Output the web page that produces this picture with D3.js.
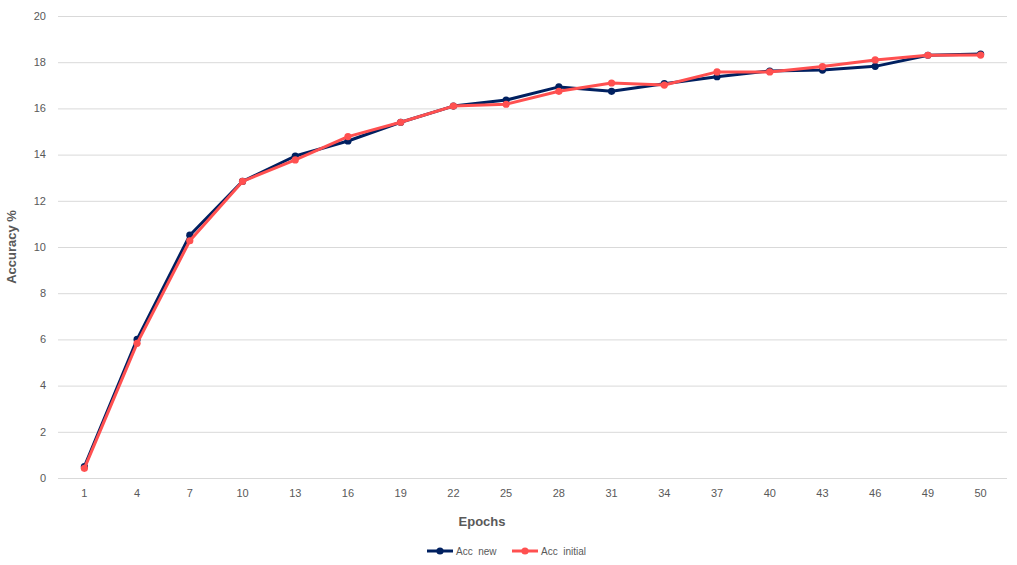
<!DOCTYPE html>
<html><head><meta charset="utf-8">
<script src="https://cdn.jsdelivr.net/npm/d3@7"></script>
<style>body{margin:0;background:#fff;} text{font-family:"Liberation Sans",Arial,sans-serif;}</style>
</head><body>
<svg id="c" width="1017" height="565"></svg>
<script>
const epochs = ["1","4","7","10","13","16","19","22","25","28","31","34","37","40","43","46","49","50"];
const accNew = [0.49,6.0,10.51,12.84,13.94,14.59,15.40,16.10,16.36,16.93,16.74,17.07,17.37,17.62,17.66,17.82,18.30,18.35];
const accInitial = [0.42,5.83,10.27,12.84,13.77,14.78,15.40,16.10,16.18,16.74,17.10,17.01,17.58,17.58,17.81,18.10,18.30,18.31];
const yTicks = [0,2,4,6,8,10,12,14,16,18,20];
const seriesNames = ["Acc  new","Acc  initial"];
const colors = ["#002060","#FF5050"];

const svg = d3.select("#c");
const mLeft=58, mRight=1007, mTop=16, mBottom=478;
const x = d3.scaleBand().domain(epochs).range([mLeft,mRight]);
const y = d3.scaleLinear().domain([0,20]).range([mBottom,mTop]);

// gridlines
svg.append("g").selectAll("line").data(yTicks).join("line")
  .attr("x1",mLeft).attr("x2",mRight)
  .attr("y1",d=>y(d)+0.5).attr("y2",d=>y(d)+0.5)
  .attr("stroke","#d9d9d9").attr("stroke-width",1);

// y tick labels
svg.append("g").selectAll("text").data(yTicks).join("text")
  .attr("x",46).attr("y",d=>y(d)).attr("dy","0.35em")
  .attr("text-anchor","end").attr("font-size",11).attr("fill","#595959")
  .text(d=>d);

// x tick labels
svg.append("g").selectAll("text").data(epochs).join("text")
  .attr("x",d=>x(d)+x.bandwidth()/2).attr("y",493).attr("dy","0.35em")
  .attr("text-anchor","middle").attr("font-size",11).attr("fill","#595959")
  .text(d=>d);

// axis titles
svg.append("text").attr("x",482).attr("y",521).attr("dy","0.35em")
  .attr("text-anchor","middle").attr("font-size",13).attr("font-weight","bold").attr("fill","#595959")
  .text("Epochs");
svg.append("text").attr("transform","translate(11,247) rotate(-90)").attr("dy","0.35em")
  .attr("text-anchor","middle").attr("font-size",13).attr("font-weight","bold").attr("fill","#595959")
  .text("Accuracy %");

const line = d3.line().x((d,i)=>x(epochs[i])+x.bandwidth()/2).y(d=>y(d));
[accNew, accInitial].forEach((s,k)=>{
  const g = svg.append("g");
  g.append("path").datum(s).attr("d",line).attr("fill","none")
    .attr("stroke",colors[k]).attr("stroke-width",3).attr("stroke-linejoin","round").attr("stroke-linecap","round");
  g.selectAll("circle").data(s).join("circle")
    .attr("cx",(d,i)=>x(epochs[i])+x.bandwidth()/2).attr("cy",d=>y(d))
    .attr("r",3.6).attr("fill",colors[k]);
});

// legend
const lx=[427,512];
seriesNames.forEach((n,k)=>{
  const g = svg.append("g");
  g.append("line").attr("x1",lx[k]).attr("x2",lx[k]+26).attr("y1",551).attr("y2",551)
    .attr("stroke",colors[k]).attr("stroke-width",3);
  g.append("circle").attr("cx",lx[k]+13).attr("cy",551).attr("r",3.6).attr("fill",colors[k]);
  g.append("text").attr("x",lx[k]+29).attr("y",551).attr("dy","0.35em")
    .attr("font-size",10).attr("fill","#595959").attr("xml:space","preserve").text(n);
});
</script>
</body></html>
